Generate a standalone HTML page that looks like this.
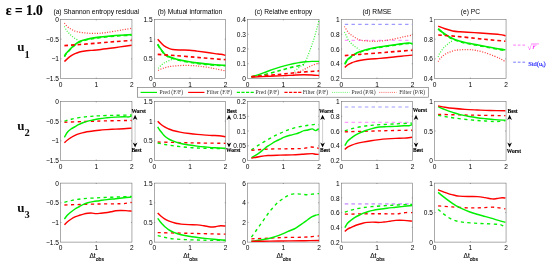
<!DOCTYPE html>
<html><head><meta charset="utf-8"><title>figure</title>
<style>
html,body{margin:0;padding:0;background:#fff}
svg{display:block}
text{text-rendering:auto}
.t{font:7.0px "Liberation Sans",sans-serif;fill:#000}
.ti{font:6.65px "Liberation Sans",sans-serif;fill:#000}
.l{font:5.7px "Liberation Serif",serif;fill:#333}
.w{font:bold 5.5px "Liberation Serif",serif;fill:#000;stroke:#000;stroke-width:0.12px}
</style></head><body>
<svg width="550" height="268" viewBox="0 0 550 268">
<rect width="550" height="268" fill="#fff"/>
<rect x="60.60" y="19.50" width="71.35" height="59.00" fill="#fff" stroke="#666" stroke-width="0.55"/>
<text transform="translate(58.90 22.15) scale(0.94 1)" text-anchor="end" class="t">0</text>
<text transform="translate(58.90 41.82) scale(0.94 1)" text-anchor="end" class="t">−0.5</text>
<text transform="translate(58.90 61.48) scale(0.94 1)" text-anchor="end" class="t">−1</text>
<text transform="translate(58.90 81.15) scale(0.94 1)" text-anchor="end" class="t">−1.5</text>
<text transform="translate(60.60 86.80) scale(0.94 1)" text-anchor="middle" class="t">0</text>
<text transform="translate(96.28 86.80) scale(0.94 1)" text-anchor="middle" class="t">1</text>
<text transform="translate(131.95 86.80) scale(0.94 1)" text-anchor="middle" class="t">2</text>
<path d="M60.60 39.17 h0.9 M131.95 39.17 h-0.9 M60.60 58.83 h0.9 M131.95 58.83 h-0.9 M96.28 78.50 v-0.9 M96.28 19.50 v0.9" stroke="#666" stroke-width="0.6" fill="none"/>
<rect x="154.30" y="19.50" width="71.35" height="59.00" fill="#fff" stroke="#666" stroke-width="0.55"/>
<text transform="translate(152.60 22.15) scale(0.94 1)" text-anchor="end" class="t">1.5</text>
<text transform="translate(152.60 41.82) scale(0.94 1)" text-anchor="end" class="t">1</text>
<text transform="translate(152.60 61.48) scale(0.94 1)" text-anchor="end" class="t">0.5</text>
<text transform="translate(152.60 81.15) scale(0.94 1)" text-anchor="end" class="t">0</text>
<text transform="translate(154.30 86.80) scale(0.94 1)" text-anchor="middle" class="t">0</text>
<text transform="translate(189.98 86.80) scale(0.94 1)" text-anchor="middle" class="t">1</text>
<text transform="translate(225.65 86.80) scale(0.94 1)" text-anchor="middle" class="t">2</text>
<path d="M154.30 39.17 h0.9 M225.65 39.17 h-0.9 M154.30 58.83 h0.9 M225.65 58.83 h-0.9 M189.98 78.50 v-0.9 M189.98 19.50 v0.9" stroke="#666" stroke-width="0.6" fill="none"/>
<rect x="247.70" y="19.50" width="71.35" height="59.00" fill="#fff" stroke="#666" stroke-width="0.55"/>
<text transform="translate(246.00 22.15) scale(0.94 1)" text-anchor="end" class="t">0.4</text>
<text transform="translate(246.00 36.90) scale(0.94 1)" text-anchor="end" class="t">0.3</text>
<text transform="translate(246.00 51.65) scale(0.94 1)" text-anchor="end" class="t">0.2</text>
<text transform="translate(246.00 66.40) scale(0.94 1)" text-anchor="end" class="t">0.1</text>
<text transform="translate(246.00 81.15) scale(0.94 1)" text-anchor="end" class="t">0</text>
<text transform="translate(247.70 86.80) scale(0.94 1)" text-anchor="middle" class="t">0</text>
<text transform="translate(283.38 86.80) scale(0.94 1)" text-anchor="middle" class="t">1</text>
<text transform="translate(319.05 86.80) scale(0.94 1)" text-anchor="middle" class="t">2</text>
<path d="M247.70 34.25 h0.9 M319.05 34.25 h-0.9 M247.70 49.00 h0.9 M319.05 49.00 h-0.9 M247.70 63.75 h0.9 M319.05 63.75 h-0.9 M283.38 78.50 v-0.9 M283.38 19.50 v0.9" stroke="#666" stroke-width="0.6" fill="none"/>
<rect x="341.30" y="19.50" width="71.35" height="59.00" fill="#fff" stroke="#666" stroke-width="0.55"/>
<text transform="translate(339.60 22.15) scale(0.94 1)" text-anchor="end" class="t">1</text>
<text transform="translate(339.60 36.90) scale(0.94 1)" text-anchor="end" class="t">0.8</text>
<text transform="translate(339.60 51.65) scale(0.94 1)" text-anchor="end" class="t">0.6</text>
<text transform="translate(339.60 66.40) scale(0.94 1)" text-anchor="end" class="t">0.4</text>
<text transform="translate(339.60 81.15) scale(0.94 1)" text-anchor="end" class="t">0.2</text>
<text transform="translate(341.30 86.80) scale(0.94 1)" text-anchor="middle" class="t">0</text>
<text transform="translate(376.98 86.80) scale(0.94 1)" text-anchor="middle" class="t">1</text>
<text transform="translate(412.65 86.80) scale(0.94 1)" text-anchor="middle" class="t">2</text>
<path d="M341.30 34.25 h0.9 M412.65 34.25 h-0.9 M341.30 49.00 h0.9 M412.65 49.00 h-0.9 M341.30 63.75 h0.9 M412.65 63.75 h-0.9 M376.98 78.50 v-0.9 M376.98 19.50 v0.9" stroke="#666" stroke-width="0.6" fill="none"/>
<rect x="434.70" y="19.50" width="71.35" height="59.00" fill="#fff" stroke="#666" stroke-width="0.55"/>
<text transform="translate(433.00 22.15) scale(0.94 1)" text-anchor="end" class="t">1</text>
<text transform="translate(433.00 41.82) scale(0.94 1)" text-anchor="end" class="t">0.8</text>
<text transform="translate(433.00 61.48) scale(0.94 1)" text-anchor="end" class="t">0.6</text>
<text transform="translate(433.00 81.15) scale(0.94 1)" text-anchor="end" class="t">0.4</text>
<text transform="translate(434.70 86.80) scale(0.94 1)" text-anchor="middle" class="t">0</text>
<text transform="translate(470.38 86.80) scale(0.94 1)" text-anchor="middle" class="t">1</text>
<text transform="translate(506.05 86.80) scale(0.94 1)" text-anchor="middle" class="t">2</text>
<path d="M434.70 39.17 h0.9 M506.05 39.17 h-0.9 M434.70 58.83 h0.9 M506.05 58.83 h-0.9 M470.38 78.50 v-0.9 M470.38 19.50 v0.9" stroke="#666" stroke-width="0.6" fill="none"/>
<rect x="60.60" y="101.50" width="71.35" height="59.00" fill="#fff" stroke="#666" stroke-width="0.55"/>
<text transform="translate(58.90 104.15) scale(0.94 1)" text-anchor="end" class="t">0</text>
<text transform="translate(58.90 123.82) scale(0.94 1)" text-anchor="end" class="t">−0.5</text>
<text transform="translate(58.90 143.48) scale(0.94 1)" text-anchor="end" class="t">−1</text>
<text transform="translate(58.90 163.15) scale(0.94 1)" text-anchor="end" class="t">−1.5</text>
<text transform="translate(60.60 168.80) scale(0.94 1)" text-anchor="middle" class="t">0</text>
<text transform="translate(96.28 168.80) scale(0.94 1)" text-anchor="middle" class="t">1</text>
<text transform="translate(131.95 168.80) scale(0.94 1)" text-anchor="middle" class="t">2</text>
<path d="M60.60 121.17 h0.9 M131.95 121.17 h-0.9 M60.60 140.83 h0.9 M131.95 140.83 h-0.9 M96.28 160.50 v-0.9 M96.28 101.50 v0.9" stroke="#666" stroke-width="0.6" fill="none"/>
<rect x="154.30" y="101.50" width="71.35" height="59.00" fill="#fff" stroke="#666" stroke-width="0.55"/>
<text transform="translate(152.60 104.15) scale(0.94 1)" text-anchor="end" class="t">1.5</text>
<text transform="translate(152.60 123.82) scale(0.94 1)" text-anchor="end" class="t">1</text>
<text transform="translate(152.60 143.48) scale(0.94 1)" text-anchor="end" class="t">0.5</text>
<text transform="translate(152.60 163.15) scale(0.94 1)" text-anchor="end" class="t">0</text>
<text transform="translate(154.30 168.80) scale(0.94 1)" text-anchor="middle" class="t">0</text>
<text transform="translate(189.98 168.80) scale(0.94 1)" text-anchor="middle" class="t">1</text>
<text transform="translate(225.65 168.80) scale(0.94 1)" text-anchor="middle" class="t">2</text>
<path d="M154.30 121.17 h0.9 M225.65 121.17 h-0.9 M154.30 140.83 h0.9 M225.65 140.83 h-0.9 M189.98 160.50 v-0.9 M189.98 101.50 v0.9" stroke="#666" stroke-width="0.6" fill="none"/>
<rect x="247.70" y="101.50" width="71.35" height="59.00" fill="#fff" stroke="#666" stroke-width="0.55"/>
<text transform="translate(246.00 104.15) scale(0.94 1)" text-anchor="end" class="t">0.2</text>
<text transform="translate(246.00 118.90) scale(0.94 1)" text-anchor="end" class="t">0.15</text>
<text transform="translate(246.00 133.65) scale(0.94 1)" text-anchor="end" class="t">0.1</text>
<text transform="translate(246.00 148.40) scale(0.94 1)" text-anchor="end" class="t">0.05</text>
<text transform="translate(246.00 163.15) scale(0.94 1)" text-anchor="end" class="t">0</text>
<text transform="translate(247.70 168.80) scale(0.94 1)" text-anchor="middle" class="t">0</text>
<text transform="translate(283.38 168.80) scale(0.94 1)" text-anchor="middle" class="t">1</text>
<text transform="translate(319.05 168.80) scale(0.94 1)" text-anchor="middle" class="t">2</text>
<path d="M247.70 116.25 h0.9 M319.05 116.25 h-0.9 M247.70 131.00 h0.9 M319.05 131.00 h-0.9 M247.70 145.75 h0.9 M319.05 145.75 h-0.9 M283.38 160.50 v-0.9 M283.38 101.50 v0.9" stroke="#666" stroke-width="0.6" fill="none"/>
<rect x="341.30" y="101.50" width="71.35" height="59.00" fill="#fff" stroke="#666" stroke-width="0.55"/>
<text transform="translate(339.60 104.15) scale(0.94 1)" text-anchor="end" class="t">1</text>
<text transform="translate(339.60 118.90) scale(0.94 1)" text-anchor="end" class="t">0.8</text>
<text transform="translate(339.60 133.65) scale(0.94 1)" text-anchor="end" class="t">0.6</text>
<text transform="translate(339.60 148.40) scale(0.94 1)" text-anchor="end" class="t">0.4</text>
<text transform="translate(339.60 163.15) scale(0.94 1)" text-anchor="end" class="t">0.2</text>
<text transform="translate(341.30 168.80) scale(0.94 1)" text-anchor="middle" class="t">0</text>
<text transform="translate(376.98 168.80) scale(0.94 1)" text-anchor="middle" class="t">1</text>
<text transform="translate(412.65 168.80) scale(0.94 1)" text-anchor="middle" class="t">2</text>
<path d="M341.30 116.25 h0.9 M412.65 116.25 h-0.9 M341.30 131.00 h0.9 M412.65 131.00 h-0.9 M341.30 145.75 h0.9 M412.65 145.75 h-0.9 M376.98 160.50 v-0.9 M376.98 101.50 v0.9" stroke="#666" stroke-width="0.6" fill="none"/>
<rect x="434.70" y="101.50" width="71.35" height="59.00" fill="#fff" stroke="#666" stroke-width="0.55"/>
<text transform="translate(433.00 104.15) scale(0.94 1)" text-anchor="end" class="t">1</text>
<text transform="translate(433.00 133.65) scale(0.94 1)" text-anchor="end" class="t">0.5</text>
<text transform="translate(433.00 163.15) scale(0.94 1)" text-anchor="end" class="t">0</text>
<text transform="translate(434.70 168.80) scale(0.94 1)" text-anchor="middle" class="t">0</text>
<text transform="translate(470.38 168.80) scale(0.94 1)" text-anchor="middle" class="t">1</text>
<text transform="translate(506.05 168.80) scale(0.94 1)" text-anchor="middle" class="t">2</text>
<path d="M434.70 131.00 h0.9 M506.05 131.00 h-0.9 M470.38 160.50 v-0.9 M470.38 101.50 v0.9" stroke="#666" stroke-width="0.6" fill="none"/>
<rect x="60.60" y="183.10" width="71.35" height="59.00" fill="#fff" stroke="#666" stroke-width="0.55"/>
<text transform="translate(58.90 185.75) scale(0.94 1)" text-anchor="end" class="t">0</text>
<text transform="translate(58.90 205.42) scale(0.94 1)" text-anchor="end" class="t">−0.5</text>
<text transform="translate(58.90 225.08) scale(0.94 1)" text-anchor="end" class="t">−1</text>
<text transform="translate(58.90 244.75) scale(0.94 1)" text-anchor="end" class="t">−1.5</text>
<text transform="translate(60.60 250.40) scale(0.94 1)" text-anchor="middle" class="t">0</text>
<text transform="translate(96.28 250.40) scale(0.94 1)" text-anchor="middle" class="t">1</text>
<text transform="translate(131.95 250.40) scale(0.94 1)" text-anchor="middle" class="t">2</text>
<path d="M60.60 202.77 h0.9 M131.95 202.77 h-0.9 M60.60 222.43 h0.9 M131.95 222.43 h-0.9 M96.28 242.10 v-0.9 M96.28 183.10 v0.9" stroke="#666" stroke-width="0.6" fill="none"/>
<rect x="154.30" y="183.10" width="71.35" height="59.00" fill="#fff" stroke="#666" stroke-width="0.55"/>
<text transform="translate(152.60 185.75) scale(0.94 1)" text-anchor="end" class="t">1.5</text>
<text transform="translate(152.60 205.42) scale(0.94 1)" text-anchor="end" class="t">1</text>
<text transform="translate(152.60 225.08) scale(0.94 1)" text-anchor="end" class="t">0.5</text>
<text transform="translate(152.60 244.75) scale(0.94 1)" text-anchor="end" class="t">0</text>
<text transform="translate(154.30 250.40) scale(0.94 1)" text-anchor="middle" class="t">0</text>
<text transform="translate(189.98 250.40) scale(0.94 1)" text-anchor="middle" class="t">1</text>
<text transform="translate(225.65 250.40) scale(0.94 1)" text-anchor="middle" class="t">2</text>
<path d="M154.30 202.77 h0.9 M225.65 202.77 h-0.9 M154.30 222.43 h0.9 M225.65 222.43 h-0.9 M189.98 242.10 v-0.9 M189.98 183.10 v0.9" stroke="#666" stroke-width="0.6" fill="none"/>
<rect x="247.70" y="183.10" width="71.35" height="59.00" fill="#fff" stroke="#666" stroke-width="0.55"/>
<text transform="translate(246.00 185.75) scale(0.94 1)" text-anchor="end" class="t">6</text>
<text transform="translate(246.00 205.42) scale(0.94 1)" text-anchor="end" class="t">4</text>
<text transform="translate(246.00 225.08) scale(0.94 1)" text-anchor="end" class="t">2</text>
<text transform="translate(246.00 244.75) scale(0.94 1)" text-anchor="end" class="t">0</text>
<text transform="translate(247.70 250.40) scale(0.94 1)" text-anchor="middle" class="t">0</text>
<text transform="translate(283.38 250.40) scale(0.94 1)" text-anchor="middle" class="t">1</text>
<text transform="translate(319.05 250.40) scale(0.94 1)" text-anchor="middle" class="t">2</text>
<path d="M247.70 202.77 h0.9 M319.05 202.77 h-0.9 M247.70 222.43 h0.9 M319.05 222.43 h-0.9 M283.38 242.10 v-0.9 M283.38 183.10 v0.9" stroke="#666" stroke-width="0.6" fill="none"/>
<rect x="341.30" y="183.10" width="71.35" height="59.00" fill="#fff" stroke="#666" stroke-width="0.55"/>
<text transform="translate(339.60 185.75) scale(0.94 1)" text-anchor="end" class="t">1</text>
<text transform="translate(339.60 200.50) scale(0.94 1)" text-anchor="end" class="t">0.8</text>
<text transform="translate(339.60 215.25) scale(0.94 1)" text-anchor="end" class="t">0.6</text>
<text transform="translate(339.60 230.00) scale(0.94 1)" text-anchor="end" class="t">0.4</text>
<text transform="translate(339.60 244.75) scale(0.94 1)" text-anchor="end" class="t">0.2</text>
<text transform="translate(341.30 250.40) scale(0.94 1)" text-anchor="middle" class="t">0</text>
<text transform="translate(376.98 250.40) scale(0.94 1)" text-anchor="middle" class="t">1</text>
<text transform="translate(412.65 250.40) scale(0.94 1)" text-anchor="middle" class="t">2</text>
<path d="M341.30 197.85 h0.9 M412.65 197.85 h-0.9 M341.30 212.60 h0.9 M412.65 212.60 h-0.9 M341.30 227.35 h0.9 M412.65 227.35 h-0.9 M376.98 242.10 v-0.9 M376.98 183.10 v0.9" stroke="#666" stroke-width="0.6" fill="none"/>
<rect x="434.70" y="183.10" width="71.35" height="59.00" fill="#fff" stroke="#666" stroke-width="0.55"/>
<text transform="translate(433.00 185.75) scale(0.94 1)" text-anchor="end" class="t">1</text>
<text transform="translate(433.00 215.25) scale(0.94 1)" text-anchor="end" class="t">0.5</text>
<text transform="translate(433.00 244.75) scale(0.94 1)" text-anchor="end" class="t">0</text>
<text transform="translate(434.70 250.40) scale(0.94 1)" text-anchor="middle" class="t">0</text>
<text transform="translate(470.38 250.40) scale(0.94 1)" text-anchor="middle" class="t">1</text>
<text transform="translate(506.05 250.40) scale(0.94 1)" text-anchor="middle" class="t">2</text>
<path d="M434.70 212.60 h0.9 M506.05 212.60 h-0.9 M470.38 242.10 v-0.9 M470.38 183.10 v0.9" stroke="#666" stroke-width="0.6" fill="none"/>
<path d="M64.40 23.20 C64.72 23.58 65.55 24.72 66.30 25.50 C67.05 26.28 68.03 27.23 68.90 27.90 C69.77 28.57 70.63 29.03 71.50 29.50 C72.37 29.97 73.23 30.35 74.10 30.70 C74.97 31.05 75.57 31.32 76.70 31.60 C77.83 31.88 79.50 32.18 80.90 32.40 C82.30 32.62 83.70 32.75 85.10 32.90 C86.50 33.05 87.73 33.22 89.30 33.30 C90.87 33.38 92.77 33.40 94.50 33.40 C96.23 33.40 97.78 33.43 99.70 33.30 C101.62 33.17 103.62 32.93 106.00 32.60 C108.38 32.27 111.00 31.80 114.00 31.30 C117.00 30.80 121.07 30.08 124.00 29.60 C126.93 29.12 130.33 28.60 131.60 28.40" fill="none" stroke="#ff0000" stroke-width="1.25" stroke-dasharray="1.0 1.55" stroke-opacity="0.78"/>
<path d="M64.40 26.40 C64.62 26.83 65.22 28.17 65.70 29.00 C66.18 29.83 66.68 30.62 67.30 31.40 C67.92 32.18 68.70 32.97 69.40 33.70 C70.10 34.43 70.72 35.10 71.50 35.80 C72.28 36.50 73.23 37.30 74.10 37.90 C74.97 38.50 75.92 38.97 76.70 39.40 C77.48 39.83 78.45 40.32 78.80 40.50" fill="none" stroke="#00ee00" stroke-width="1.25" stroke-dasharray="1.0 1.55" stroke-opacity="0.78"/>
<path d="M64.40 56.20 C64.67 55.77 65.40 54.40 66.00 53.60 C66.60 52.80 67.17 52.30 68.00 51.40 C68.83 50.50 69.90 49.28 71.00 48.20 C72.10 47.12 73.18 46.02 74.60 44.90 C76.02 43.78 77.77 42.37 79.50 41.50 C81.23 40.63 83.08 40.22 85.00 39.70 C86.92 39.18 88.62 38.83 91.00 38.40 C93.38 37.97 96.13 37.48 99.30 37.10 C102.47 36.72 106.55 36.40 110.00 36.10 C113.45 35.80 116.40 35.55 120.00 35.30 C123.60 35.05 129.67 34.72 131.60 34.60" fill="none" stroke="#00ee00" stroke-width="1.60"/>
<path d="M64.40 56.75 C64.67 56.32 65.40 54.95 66.00 54.15 C66.60 53.35 67.17 52.85 68.00 51.95 C68.83 51.05 69.90 49.83 71.00 48.75 C72.10 47.67 73.18 46.57 74.60 45.45 C76.02 44.33 77.77 42.92 79.50 42.05 C81.23 41.18 83.08 40.77 85.00 40.25 C86.92 39.73 88.62 39.38 91.00 38.95 C93.38 38.52 96.13 38.03 99.30 37.65 C102.47 37.27 106.55 36.95 110.00 36.65 C113.45 36.35 116.40 36.10 120.00 35.85 C123.60 35.60 129.67 35.27 131.60 35.15" fill="none" stroke="#00ee00" stroke-width="1.50" stroke-dasharray="3.7 2.9"/>
<path d="M64.40 45.60 C67.00 45.42 74.23 44.93 80.00 44.50 C85.77 44.07 93.17 43.48 99.00 43.00 C104.83 42.52 109.57 42.03 115.00 41.60 C120.43 41.17 128.83 40.60 131.60 40.40" fill="none" stroke="#ff0000" stroke-width="1.60" stroke-dasharray="3.7 2.9"/>
<path d="M64.40 61.50 C64.92 61.02 66.35 59.57 67.50 58.60 C68.65 57.63 70.05 56.52 71.30 55.70 C72.55 54.88 73.63 54.32 75.00 53.70 C76.37 53.08 77.83 52.45 79.50 52.00 C81.17 51.55 83.08 51.27 85.00 51.00 C86.92 50.73 88.67 50.62 91.00 50.40 C93.33 50.18 95.83 50.05 99.00 49.70 C102.17 49.35 106.50 48.77 110.00 48.30 C113.50 47.83 116.40 47.40 120.00 46.90 C123.60 46.40 129.67 45.57 131.60 45.30" fill="none" stroke="#ff0000" stroke-width="1.45"/>
<path d="M158.20 70.40 C158.67 70.17 159.97 69.43 161.00 69.00 C162.03 68.57 163.32 68.13 164.40 67.80 C165.48 67.47 166.45 67.23 167.50 67.00 C168.55 66.77 169.12 66.62 170.70 66.40 C172.28 66.18 174.57 65.87 177.00 65.70 C179.43 65.53 182.52 65.40 185.30 65.40 C188.08 65.40 191.25 65.55 193.70 65.70 C196.15 65.85 197.62 66.02 200.00 66.30 C202.38 66.58 205.33 66.95 208.00 67.40 C210.67 67.85 213.10 68.42 216.00 69.00 C218.90 69.58 223.83 70.58 225.40 70.90" fill="none" stroke="#ff0000" stroke-width="1.25" stroke-dasharray="1.0 1.55" stroke-opacity="0.78"/>
<path d="M158.20 68.30 C158.72 67.78 160.27 66.13 161.30 65.20 C162.33 64.27 163.35 63.35 164.40 62.70 C165.45 62.05 166.55 61.77 167.60 61.30 C168.65 60.83 169.83 60.25 170.70 59.90 C171.57 59.55 172.45 59.32 172.80 59.20" fill="none" stroke="#00ee00" stroke-width="1.25" stroke-dasharray="1.0 1.55" stroke-opacity="0.78"/>
<path d="M157.70 44.10 C158.08 44.75 159.20 46.80 160.00 48.00 C160.80 49.20 161.73 50.30 162.50 51.30 C163.27 52.30 163.68 53.18 164.60 54.00 C165.52 54.82 166.63 55.53 168.00 56.20 C169.37 56.87 170.80 57.37 172.80 58.00 C174.80 58.63 177.25 59.37 180.00 60.00 C182.75 60.63 186.47 61.32 189.30 61.80 C192.13 62.28 194.27 62.55 197.00 62.90 C199.73 63.25 202.70 63.60 205.70 63.90 C208.70 64.20 211.72 64.47 215.00 64.70 C218.28 64.93 223.67 65.20 225.40 65.30" fill="none" stroke="#00ee00" stroke-width="1.60"/>
<path d="M157.70 44.65 C158.08 45.30 159.20 47.35 160.00 48.55 C160.80 49.75 161.73 50.85 162.50 51.85 C163.27 52.85 163.68 53.73 164.60 54.55 C165.52 55.37 166.63 56.08 168.00 56.75 C169.37 57.42 170.80 57.92 172.80 58.55 C174.80 59.18 177.25 59.92 180.00 60.55 C182.75 61.18 186.47 61.87 189.30 62.35 C192.13 62.83 194.27 63.10 197.00 63.45 C199.73 63.80 202.70 64.15 205.70 64.45 C208.70 64.75 211.72 65.02 215.00 65.25 C218.28 65.48 223.67 65.75 225.40 65.85" fill="none" stroke="#00ee00" stroke-width="1.50" stroke-dasharray="3.7 2.9"/>
<path d="M157.70 54.40 C160.58 54.60 168.78 55.13 175.00 55.60 C181.22 56.07 189.17 56.72 195.00 57.20 C200.83 57.68 204.93 58.08 210.00 58.50 C215.07 58.92 222.83 59.50 225.40 59.70" fill="none" stroke="#ff0000" stroke-width="1.60" stroke-dasharray="3.7 2.9"/>
<path d="M157.70 39.20 C158.17 39.72 159.35 41.13 160.50 42.30 C161.65 43.47 163.27 45.22 164.60 46.20 C165.93 47.18 167.13 47.65 168.50 48.20 C169.87 48.75 170.88 49.20 172.80 49.50 C174.72 49.80 177.25 49.88 180.00 50.00 C182.75 50.12 186.47 50.02 189.30 50.20 C192.13 50.38 194.27 50.75 197.00 51.10 C199.73 51.45 202.70 51.88 205.70 52.30 C208.70 52.72 212.45 53.27 215.00 53.60 C217.55 53.93 219.27 54.00 221.00 54.30 C222.73 54.60 224.67 55.22 225.40 55.40" fill="none" stroke="#ff0000" stroke-width="1.45"/>
<path d="M294.50 71.20 C295.08 70.72 296.83 69.25 298.00 68.30 C299.17 67.35 300.40 66.38 301.50 65.50 C302.60 64.62 303.68 64.25 304.60 63.00 C305.52 61.75 306.18 59.92 307.00 58.00 C307.82 56.08 308.68 53.67 309.50 51.50 C310.32 49.33 311.07 47.42 311.90 45.00 C312.73 42.58 313.65 39.83 314.50 37.00 C315.35 34.17 316.25 30.83 317.00 28.00 C317.75 25.17 318.67 21.33 319.00 20.00" fill="none" stroke="#00ee00" stroke-width="1.25" stroke-dasharray="1.0 1.55" stroke-opacity="0.78"/>
<path d="M293.00 74.00 C294.17 73.58 297.83 72.42 300.00 71.50 C302.17 70.58 304.00 69.50 306.00 68.50 C308.00 67.50 309.82 66.42 312.00 65.50 C314.18 64.58 317.92 63.42 319.10 63.00" fill="none" stroke="#ff0000" stroke-width="1.25" stroke-dasharray="1.0 1.55" stroke-opacity="0.78"/>
<path d="M251.40 76.70 C252.50 76.40 255.27 75.82 258.00 74.90 C260.73 73.98 264.80 72.28 267.80 71.20 C270.80 70.12 273.25 69.28 276.00 68.40 C278.75 67.52 281.28 66.72 284.30 65.90 C287.32 65.08 291.48 64.07 294.10 63.50 C296.72 62.93 298.08 62.78 300.00 62.50 C301.92 62.22 303.60 61.98 305.60 61.80 C307.60 61.62 309.75 61.47 312.00 61.40 C314.25 61.33 317.92 61.40 319.10 61.40" fill="none" stroke="#00ee00" stroke-width="1.45"/>
<path d="M251.40 76.90 C253.17 76.62 257.90 76.07 262.00 75.20 C266.10 74.33 272.33 72.67 276.00 71.70 C279.67 70.73 281.25 70.17 284.00 69.40 C286.75 68.63 289.72 67.78 292.50 67.10 C295.28 66.42 298.78 65.72 300.70 65.30 C302.62 64.88 303.45 64.72 304.00 64.60" fill="none" stroke="#00ee00" stroke-width="1.60" stroke-dasharray="3.7 2.9"/>
<path d="M251.40 76.60 C254.50 76.37 264.52 75.65 270.00 75.20 C275.48 74.75 279.18 74.40 284.30 73.90 C289.42 73.40 294.90 72.70 300.70 72.20 C306.50 71.70 316.03 71.12 319.10 70.90" fill="none" stroke="#ff0000" stroke-width="1.60" stroke-dasharray="3.7 2.9"/>
<path d="M251.40 77.00 C254.50 76.88 264.52 76.53 270.00 76.30 C275.48 76.07 279.97 75.82 284.30 75.60 C288.63 75.38 292.72 75.13 296.00 75.00 C299.28 74.87 301.33 74.80 304.00 74.80 C306.67 74.80 309.48 74.88 312.00 75.00 C314.52 75.12 317.92 75.42 319.10 75.50" fill="none" stroke="#ff0000" stroke-width="1.45"/>
<path d="M344.80 24.40 L412.40 24.40" fill="none" stroke="#9b9bff" stroke-width="1.20" stroke-dasharray="3.4 3.3"/>
<path d="M344.80 40.40 L412.40 40.40" fill="none" stroke="#ff9bff" stroke-width="1.20" stroke-dasharray="3.4 3.3"/>
<path d="M344.40 26.50 C344.72 26.98 345.55 28.30 346.30 29.40 C347.05 30.50 348.03 32.13 348.90 33.10 C349.77 34.07 350.63 34.57 351.50 35.20 C352.37 35.83 353.23 36.33 354.10 36.90 C354.97 37.47 355.83 38.15 356.70 38.60 C357.57 39.05 358.43 39.30 359.30 39.60 C360.17 39.90 360.77 40.18 361.90 40.40 C363.03 40.62 364.53 40.77 366.10 40.90 C367.67 41.03 369.55 41.13 371.30 41.20 C373.05 41.27 374.48 41.38 376.60 41.30 C378.72 41.22 381.10 41.08 384.00 40.70 C386.90 40.32 390.67 39.65 394.00 39.00 C397.33 38.35 400.93 37.47 404.00 36.80 C407.07 36.13 411.00 35.30 412.40 35.00" fill="none" stroke="#ff0000" stroke-width="1.25" stroke-dasharray="1.0 1.55" stroke-opacity="0.78"/>
<path d="M344.40 32.00 C344.72 32.62 345.63 34.38 346.30 35.70 C346.97 37.02 347.72 38.77 348.40 39.90 C349.08 41.03 349.72 41.72 350.40 42.50 C351.08 43.28 351.80 43.97 352.50 44.60 C353.20 45.23 353.90 45.78 354.60 46.30 C355.30 46.82 355.90 47.12 356.70 47.70 C357.50 48.28 358.95 49.45 359.40 49.80" fill="none" stroke="#00ee00" stroke-width="1.25" stroke-dasharray="1.0 1.55" stroke-opacity="0.78"/>
<path d="M344.80 63.80 C345.25 63.10 346.42 60.83 347.50 59.60 C348.58 58.37 350.05 57.35 351.30 56.40 C352.55 55.45 353.62 54.67 355.00 53.90 C356.38 53.13 357.93 52.45 359.60 51.80 C361.27 51.15 363.10 50.55 365.00 50.00 C366.90 49.45 368.67 49.00 371.00 48.50 C373.33 48.00 376.25 47.47 379.00 47.00 C381.75 46.53 384.33 46.15 387.50 45.70 C390.67 45.25 394.45 44.75 398.00 44.30 C401.55 43.85 406.40 43.08 408.80 43.00 C411.20 42.92 411.80 43.67 412.40 43.80" fill="none" stroke="#00ee00" stroke-width="1.60"/>
<path d="M344.80 64.35 C345.25 63.65 346.42 61.38 347.50 60.15 C348.58 58.92 350.05 57.90 351.30 56.95 C352.55 56.00 353.62 55.22 355.00 54.45 C356.38 53.68 357.93 53.00 359.60 52.35 C361.27 51.70 363.10 51.10 365.00 50.55 C366.90 50.00 368.67 49.55 371.00 49.05 C373.33 48.55 376.25 48.02 379.00 47.55 C381.75 47.08 384.33 46.70 387.50 46.25 C390.67 45.80 394.45 45.30 398.00 44.85 C401.55 44.40 406.40 43.63 408.80 43.55 C411.20 43.47 411.80 44.22 412.40 44.35" fill="none" stroke="#00ee00" stroke-width="1.50" stroke-dasharray="3.7 2.9"/>
<path d="M344.80 55.60 C347.33 55.40 354.13 54.87 360.00 54.40 C365.87 53.93 374.00 53.28 380.00 52.80 C386.00 52.32 390.60 51.93 396.00 51.50 C401.40 51.07 409.67 50.42 412.40 50.20" fill="none" stroke="#ff0000" stroke-width="1.60" stroke-dasharray="3.7 2.9"/>
<path d="M344.80 67.60 C345.25 67.17 346.42 65.77 347.50 65.00 C348.58 64.23 350.05 63.57 351.30 63.00 C352.55 62.43 353.62 62.02 355.00 61.60 C356.38 61.18 357.43 60.88 359.60 60.50 C361.77 60.12 364.72 59.65 368.00 59.30 C371.28 58.95 376.13 58.67 379.30 58.40 C382.47 58.13 384.27 57.98 387.00 57.70 C389.73 57.42 392.87 57.00 395.70 56.70 C398.53 56.40 401.22 56.17 404.00 55.90 C406.78 55.63 411.00 55.23 412.40 55.10" fill="none" stroke="#ff0000" stroke-width="1.45"/>
<path d="M438.20 61.60 C438.45 61.17 439.10 59.78 439.70 59.00 C440.30 58.22 441.02 57.60 441.80 56.90 C442.58 56.20 443.43 55.47 444.40 54.80 C445.37 54.13 446.55 53.42 447.60 52.90 C448.65 52.38 449.48 52.12 450.70 51.70 C451.92 51.28 453.33 50.72 454.90 50.40 C456.47 50.08 458.37 49.93 460.10 49.80 C461.83 49.67 463.55 49.62 465.30 49.60 C467.05 49.58 468.82 49.57 470.60 49.70 C472.38 49.83 473.77 49.97 476.00 50.40 C478.23 50.83 481.00 51.37 484.00 52.30 C487.00 53.23 491.17 54.88 494.00 56.00 C496.83 57.12 499.10 58.00 501.00 59.00 C502.90 60.00 504.67 61.50 505.40 62.00" fill="none" stroke="#ff0000" stroke-width="1.25" stroke-dasharray="1.0 1.55" stroke-opacity="0.78"/>
<path d="M438.20 56.90 C438.37 56.47 438.77 55.17 439.20 54.30 C439.63 53.43 440.18 52.63 440.80 51.70 C441.42 50.77 442.20 49.58 442.90 48.70 C443.60 47.82 444.22 47.15 445.00 46.40 C445.78 45.65 446.73 44.92 447.60 44.20 C448.47 43.48 449.25 42.73 450.20 42.10 C451.15 41.47 452.78 40.68 453.30 40.40" fill="none" stroke="#00ee00" stroke-width="1.25" stroke-dasharray="1.0 1.55" stroke-opacity="0.78"/>
<path d="M438.20 28.60 C438.83 29.17 440.40 30.77 442.00 32.00 C443.60 33.23 445.97 34.88 447.80 36.00 C449.63 37.12 451.08 37.87 453.00 38.70 C454.92 39.53 456.97 40.28 459.30 41.00 C461.63 41.72 464.27 42.42 467.00 43.00 C469.73 43.58 472.37 43.88 475.70 44.50 C479.03 45.12 482.95 45.93 487.00 46.70 C491.05 47.47 496.93 48.58 500.00 49.10 C503.07 49.62 504.50 49.68 505.40 49.80" fill="none" stroke="#00ee00" stroke-width="1.60"/>
<path d="M438.20 29.15 C438.83 29.72 440.40 31.32 442.00 32.55 C443.60 33.78 445.97 35.43 447.80 36.55 C449.63 37.67 451.08 38.42 453.00 39.25 C454.92 40.08 456.97 40.83 459.30 41.55 C461.63 42.27 464.27 42.97 467.00 43.55 C469.73 44.13 472.37 44.43 475.70 45.05 C479.03 45.67 482.95 46.48 487.00 47.25 C491.05 48.02 496.93 49.13 500.00 49.65 C503.07 50.17 504.50 50.23 505.40 50.35" fill="none" stroke="#00ee00" stroke-width="1.50" stroke-dasharray="3.7 2.9"/>
<path d="M438.20 35.00 C441.00 35.20 448.87 35.65 455.00 36.20 C461.13 36.75 469.17 37.70 475.00 38.30 C480.83 38.90 484.93 39.32 490.00 39.80 C495.07 40.28 502.83 40.97 505.40 41.20" fill="none" stroke="#ff0000" stroke-width="1.60" stroke-dasharray="3.7 2.9"/>
<path d="M438.20 26.10 C439.33 26.55 442.58 27.98 445.00 28.80 C447.42 29.62 450.20 30.50 452.70 31.00 C455.20 31.50 457.53 31.60 460.00 31.80 C462.47 32.00 464.17 32.00 467.50 32.20 C470.83 32.40 476.25 32.73 480.00 33.00 C483.75 33.27 486.67 33.53 490.00 33.80 C493.33 34.07 497.40 34.27 500.00 34.60 C502.60 34.93 504.67 35.60 505.60 35.80" fill="none" stroke="#ff0000" stroke-width="1.45"/>
<path d="M64.40 121.20 C65.67 120.83 68.93 119.68 72.00 119.00 C75.07 118.32 79.63 117.55 82.80 117.10 C85.97 116.65 88.25 116.52 91.00 116.30 C93.75 116.08 95.30 115.97 99.30 115.80 C103.30 115.63 109.62 115.43 115.00 115.30 C120.38 115.17 128.83 115.05 131.60 115.00" fill="none" stroke="#00ee00" stroke-width="1.35" stroke-dasharray="3.2 3.4"/>
<path d="M64.40 122.30 C67.83 122.17 78.23 121.73 85.00 121.50 C91.77 121.27 97.23 121.08 105.00 120.90 C112.77 120.72 127.17 120.48 131.60 120.40" fill="none" stroke="#ff0000" stroke-width="1.35" stroke-dasharray="3.2 3.4"/>
<path d="M64.40 137.40 C64.67 136.88 65.40 135.27 66.00 134.30 C66.60 133.33 67.17 132.48 68.00 131.60 C68.83 130.72 69.90 129.77 71.00 129.00 C72.10 128.23 73.35 127.72 74.60 127.00 C75.85 126.28 77.13 125.40 78.50 124.70 C79.87 124.00 81.38 123.35 82.80 122.80 C84.22 122.25 85.63 121.80 87.00 121.40 C88.37 121.00 88.95 120.85 91.00 120.40 C93.05 119.95 96.63 119.13 99.30 118.70 C101.97 118.27 104.27 118.07 107.00 117.80 C109.73 117.53 112.87 117.27 115.70 117.10 C118.53 116.93 121.78 116.83 124.00 116.80 C126.22 116.77 127.73 117.03 129.00 116.90 C130.27 116.77 131.17 116.15 131.60 116.00" fill="none" stroke="#00ee00" stroke-width="1.45"/>
<path d="M64.40 142.80 C64.92 142.33 66.35 140.90 67.50 140.00 C68.65 139.10 70.05 138.18 71.30 137.40 C72.55 136.62 73.63 135.93 75.00 135.30 C76.37 134.67 77.83 134.12 79.50 133.60 C81.17 133.08 83.08 132.58 85.00 132.20 C86.92 131.82 88.62 131.63 91.00 131.30 C93.38 130.97 96.63 130.48 99.30 130.20 C101.97 129.92 104.27 129.78 107.00 129.60 C109.73 129.42 112.87 129.25 115.70 129.10 C118.53 128.95 121.35 128.87 124.00 128.70 C126.65 128.53 130.33 128.20 131.60 128.10" fill="none" stroke="#ff0000" stroke-width="1.45"/>
<path d="M157.70 142.00 C161.42 142.10 172.95 142.43 180.00 142.60 C187.05 142.77 192.43 142.88 200.00 143.00 C207.57 143.12 221.17 143.25 225.40 143.30" fill="none" stroke="#ff0000" stroke-width="1.35" stroke-dasharray="3.2 3.4"/>
<path d="M157.70 143.00 C158.92 143.25 162.12 144.00 165.00 144.50 C167.88 145.00 170.95 145.50 175.00 146.00 C179.05 146.50 184.30 147.12 189.30 147.50 C194.30 147.88 198.98 148.12 205.00 148.30 C211.02 148.48 222.00 148.55 225.40 148.60" fill="none" stroke="#00ee00" stroke-width="1.35" stroke-dasharray="3.2 3.4"/>
<path d="M157.70 126.90 C158.08 127.50 159.20 129.38 160.00 130.50 C160.80 131.62 161.73 132.68 162.50 133.60 C163.27 134.52 163.60 135.13 164.60 136.00 C165.60 136.87 167.13 137.98 168.50 138.80 C169.87 139.62 170.88 140.15 172.80 140.90 C174.72 141.65 177.25 142.62 180.00 143.30 C182.75 143.98 186.47 144.53 189.30 145.00 C192.13 145.47 194.27 145.77 197.00 146.10 C199.73 146.43 202.70 146.72 205.70 147.00 C208.70 147.28 211.72 147.58 215.00 147.80 C218.28 148.02 223.67 148.22 225.40 148.30" fill="none" stroke="#00ee00" stroke-width="1.45"/>
<path d="M157.70 121.20 C158.17 121.67 159.35 123.05 160.50 124.00 C161.65 124.95 163.27 126.08 164.60 126.90 C165.93 127.72 167.13 128.30 168.50 128.90 C169.87 129.50 170.88 129.97 172.80 130.50 C174.72 131.03 177.25 131.60 180.00 132.10 C182.75 132.60 186.47 133.12 189.30 133.50 C192.13 133.88 194.27 134.13 197.00 134.40 C199.73 134.67 203.20 134.92 205.70 135.10 C208.20 135.28 209.78 135.40 212.00 135.50 C214.22 135.60 216.77 135.50 219.00 135.70 C221.23 135.90 224.33 136.53 225.40 136.70" fill="none" stroke="#ff0000" stroke-width="1.45"/>
<path d="M251.40 149.90 C252.67 149.07 256.27 146.62 259.00 144.90 C261.73 143.18 264.97 141.22 267.80 139.60 C270.63 137.98 273.25 136.57 276.00 135.20 C278.75 133.83 281.63 132.50 284.30 131.40 C286.97 130.30 289.27 129.42 292.00 128.60 C294.73 127.78 297.88 127.07 300.70 126.50 C303.52 125.93 306.43 125.55 308.90 125.20 C311.37 124.85 313.87 124.47 315.50 124.40 C317.13 124.33 318.17 124.73 318.70 124.80" fill="none" stroke="#00ee00" stroke-width="1.35" stroke-dasharray="3.2 3.4"/>
<path d="M251.40 150.30 C254.13 150.10 262.20 149.35 267.80 149.10 C273.40 148.85 279.52 148.88 285.00 148.80 C290.48 148.72 297.20 148.73 300.70 148.60 C304.20 148.47 304.37 148.27 306.00 148.00 C307.63 147.73 309.00 147.10 310.50 147.00 C312.00 146.90 313.63 147.18 315.00 147.40 C316.37 147.62 318.08 148.15 318.70 148.30" fill="none" stroke="#ff0000" stroke-width="1.35" stroke-dasharray="3.2 3.4"/>
<path d="M251.40 157.70 C252.00 157.37 253.63 156.53 255.00 155.70 C256.37 154.87 258.18 153.73 259.60 152.70 C261.02 151.67 262.13 150.58 263.50 149.50 C264.87 148.42 266.38 147.20 267.80 146.20 C269.22 145.20 270.63 144.33 272.00 143.50 C273.37 142.67 274.67 141.92 276.00 141.20 C277.33 140.48 278.62 139.88 280.00 139.20 C281.38 138.52 282.63 137.75 284.30 137.10 C285.97 136.45 288.08 135.83 290.00 135.30 C291.92 134.77 294.13 134.40 295.80 133.90 C297.47 133.40 298.63 132.85 300.00 132.30 C301.37 131.75 302.67 130.98 304.00 130.60 C305.33 130.22 306.63 130.28 308.00 130.00 C309.37 129.72 310.95 128.80 312.20 128.90 C313.45 129.00 314.42 130.65 315.50 130.60 C316.58 130.55 318.17 128.93 318.70 128.60" fill="none" stroke="#00ee00" stroke-width="1.45"/>
<path d="M251.40 158.20 C252.67 157.95 256.27 157.15 259.00 156.70 C261.73 156.25 264.30 155.77 267.80 155.50 C271.30 155.23 275.88 155.20 280.00 155.10 C284.12 155.00 288.83 155.03 292.50 154.90 C296.17 154.77 298.72 154.52 302.00 154.30 C305.28 154.08 309.95 153.60 312.20 153.60 C314.45 153.60 314.42 154.17 315.50 154.30 C316.58 154.43 318.17 154.38 318.70 154.40" fill="none" stroke="#ff0000" stroke-width="1.45"/>
<path d="M344.80 107.00 L412.40 107.00" fill="none" stroke="#9b9bff" stroke-width="1.20" stroke-dasharray="3.4 3.3"/>
<path d="M344.80 122.30 L412.40 122.30" fill="none" stroke="#ff9bff" stroke-width="1.20" stroke-dasharray="3.4 3.3"/>
<path d="M344.80 130.80 C346.17 130.38 350.00 129.03 353.00 128.30 C356.00 127.57 359.80 126.88 362.80 126.40 C365.80 125.92 368.25 125.68 371.00 125.40 C373.75 125.12 375.18 124.95 379.30 124.70 C383.42 124.45 390.23 124.17 395.70 123.90 C401.17 123.63 409.37 123.23 412.10 123.10" fill="none" stroke="#00ee00" stroke-width="1.35" stroke-dasharray="3.2 3.4"/>
<path d="M344.80 131.80 C349.00 131.68 362.47 131.30 370.00 131.10 C377.53 130.90 382.98 130.75 390.00 130.60 C397.02 130.45 408.42 130.27 412.10 130.20" fill="none" stroke="#ff0000" stroke-width="1.35" stroke-dasharray="3.2 3.4"/>
<path d="M344.80 145.70 C345.25 144.97 346.42 142.58 347.50 141.30 C348.58 140.02 350.05 139.00 351.30 138.00 C352.55 137.00 353.62 136.13 355.00 135.30 C356.38 134.47 357.93 133.77 359.60 133.00 C361.27 132.23 363.10 131.38 365.00 130.70 C366.90 130.02 368.62 129.52 371.00 128.90 C373.38 128.28 376.63 127.38 379.30 127.00 C381.97 126.62 384.27 126.70 387.00 126.60 C389.73 126.50 392.87 126.55 395.70 126.40 C398.53 126.25 401.78 125.80 404.00 125.70 C406.22 125.60 407.65 125.97 409.00 125.80 C410.35 125.63 411.58 124.88 412.10 124.70" fill="none" stroke="#00ee00" stroke-width="1.45"/>
<path d="M344.80 149.50 C345.25 149.10 346.42 147.80 347.50 147.10 C348.58 146.40 349.88 145.88 351.30 145.30 C352.72 144.72 354.08 144.13 356.00 143.60 C357.92 143.07 360.30 142.58 362.80 142.10 C365.30 141.62 368.25 141.12 371.00 140.70 C373.75 140.28 376.63 139.90 379.30 139.60 C381.97 139.30 384.27 139.10 387.00 138.90 C389.73 138.70 392.87 138.53 395.70 138.40 C398.53 138.27 401.27 138.28 404.00 138.10 C406.73 137.92 410.75 137.43 412.10 137.30" fill="none" stroke="#ff0000" stroke-width="1.45"/>
<path d="M438.10 114.40 C441.75 114.48 453.02 114.75 460.00 114.90 C466.98 115.05 472.43 115.17 480.00 115.30 C487.57 115.43 501.17 115.63 505.40 115.70" fill="none" stroke="#ff0000" stroke-width="1.35" stroke-dasharray="3.2 3.4"/>
<path d="M438.10 115.40 C439.25 115.60 442.18 116.15 445.00 116.60 C447.82 117.05 450.95 117.57 455.00 118.10 C459.05 118.63 464.80 119.35 469.30 119.80 C473.80 120.25 477.90 120.52 482.00 120.80 C486.10 121.08 490.90 121.42 493.90 121.50 C496.90 121.58 498.08 121.45 500.00 121.30 C501.92 121.15 504.50 120.72 505.40 120.60" fill="none" stroke="#00ee00" stroke-width="1.35" stroke-dasharray="3.2 3.4"/>
<path d="M438.10 106.70 C439.25 107.18 442.55 108.65 445.00 109.60 C447.45 110.55 450.30 111.57 452.80 112.40 C455.30 113.23 457.25 113.92 460.00 114.60 C462.75 115.28 466.47 115.98 469.30 116.50 C472.13 117.02 474.27 117.33 477.00 117.70 C479.73 118.07 482.70 118.38 485.70 118.70 C488.70 119.02 491.72 119.33 495.00 119.60 C498.28 119.87 503.67 120.18 505.40 120.30" fill="none" stroke="#00ee00" stroke-width="1.45"/>
<path d="M438.10 105.90 C439.25 106.12 442.55 106.80 445.00 107.20 C447.45 107.60 449.47 107.93 452.80 108.30 C456.13 108.67 460.88 109.12 465.00 109.40 C469.12 109.68 473.33 109.82 477.50 110.00 C481.67 110.18 485.35 110.37 490.00 110.50 C494.65 110.63 502.83 110.75 505.40 110.80" fill="none" stroke="#ff0000" stroke-width="1.45"/>
<path d="M64.40 202.30 C65.67 201.97 68.93 200.90 72.00 200.30 C75.07 199.70 78.97 199.10 82.80 198.70 C86.63 198.30 90.88 198.12 95.00 197.90 C99.12 197.68 103.33 197.57 107.50 197.40 C111.67 197.23 115.98 197.08 120.00 196.90 C124.02 196.72 129.67 196.40 131.60 196.30" fill="none" stroke="#00ee00" stroke-width="1.35" stroke-dasharray="3.2 3.4"/>
<path d="M64.40 205.00 C67.00 204.92 74.18 204.67 80.00 204.50 C85.82 204.33 93.47 204.12 99.30 204.00 C105.13 203.88 111.18 203.85 115.00 203.80 C118.82 203.75 120.20 203.80 122.20 203.70 C124.20 203.60 125.43 203.43 127.00 203.20 C128.57 202.97 130.83 202.45 131.60 202.30" fill="none" stroke="#ff0000" stroke-width="1.35" stroke-dasharray="3.2 3.4"/>
<path d="M64.40 219.00 C64.92 218.33 66.35 216.22 67.50 215.00 C68.65 213.78 70.05 212.70 71.30 211.70 C72.55 210.70 73.63 209.87 75.00 209.00 C76.37 208.13 78.08 207.27 79.50 206.50 C80.92 205.73 82.12 205.02 83.50 204.40 C84.88 203.78 86.22 203.27 87.80 202.80 C89.38 202.33 91.08 201.95 93.00 201.60 C94.92 201.25 96.97 201.03 99.30 200.70 C101.63 200.37 104.27 199.93 107.00 199.60 C109.73 199.27 112.87 199.00 115.70 198.70 C118.53 198.40 121.35 198.07 124.00 197.80 C126.65 197.53 130.33 197.22 131.60 197.10" fill="none" stroke="#00ee00" stroke-width="1.45"/>
<path d="M64.40 224.80 C64.92 224.28 66.35 222.67 67.50 221.70 C68.65 220.73 70.05 219.80 71.30 219.00 C72.55 218.20 73.63 217.52 75.00 216.90 C76.37 216.28 78.08 215.77 79.50 215.30 C80.92 214.83 82.12 214.43 83.50 214.10 C84.88 213.77 86.38 213.47 87.80 213.30 C89.22 213.13 90.63 213.05 92.00 213.10 C93.37 213.15 94.50 213.58 96.00 213.60 C97.50 213.62 99.08 213.38 101.00 213.20 C102.92 213.02 105.83 212.73 107.50 212.50 C109.17 212.27 109.63 212.08 111.00 211.80 C112.37 211.52 114.20 211.02 115.70 210.80 C117.20 210.58 118.28 210.53 120.00 210.50 C121.72 210.47 124.07 210.50 126.00 210.60 C127.93 210.70 130.67 211.02 131.60 211.10" fill="none" stroke="#ff0000" stroke-width="1.45"/>
<path d="M157.70 232.60 C161.42 232.68 172.95 232.93 180.00 233.10 C187.05 233.27 192.43 233.42 200.00 233.60 C207.57 233.78 221.17 234.10 225.40 234.20" fill="none" stroke="#ff0000" stroke-width="1.35" stroke-dasharray="3.2 3.4"/>
<path d="M157.70 235.60 C158.75 235.87 161.48 236.67 164.00 237.20 C166.52 237.73 169.30 238.40 172.80 238.80 C176.30 239.20 180.88 239.40 185.00 239.60 C189.12 239.80 193.33 239.88 197.50 240.00 C201.67 240.12 205.35 240.22 210.00 240.30 C214.65 240.38 222.83 240.47 225.40 240.50" fill="none" stroke="#00ee00" stroke-width="1.35" stroke-dasharray="3.2 3.4"/>
<path d="M157.70 218.30 C158.08 218.83 159.20 220.50 160.00 221.50 C160.80 222.50 161.73 223.47 162.50 224.30 C163.27 225.13 163.60 225.62 164.60 226.50 C165.60 227.38 167.13 228.70 168.50 229.60 C169.87 230.50 171.38 231.25 172.80 231.90 C174.22 232.55 175.63 233.03 177.00 233.50 C178.37 233.97 179.00 234.23 181.00 234.70 C183.00 235.17 186.25 235.83 189.00 236.30 C191.75 236.77 194.83 237.15 197.50 237.50 C200.17 237.85 202.27 238.10 205.00 238.40 C207.73 238.70 210.50 239.00 213.90 239.30 C217.30 239.60 223.48 240.05 225.40 240.20" fill="none" stroke="#00ee00" stroke-width="1.45"/>
<path d="M157.70 212.90 C158.17 213.37 159.35 214.72 160.50 215.70 C161.65 216.68 163.27 217.95 164.60 218.80 C165.93 219.65 167.13 220.20 168.50 220.80 C169.87 221.40 171.38 221.95 172.80 222.40 C174.22 222.85 175.63 223.22 177.00 223.50 C178.37 223.78 179.00 223.92 181.00 224.10 C183.00 224.28 186.25 224.47 189.00 224.60 C191.75 224.73 195.00 224.70 197.50 224.90 C200.00 225.10 201.82 225.45 204.00 225.80 C206.18 226.15 208.60 226.87 210.60 227.00 C212.60 227.13 214.35 226.82 216.00 226.60 C217.65 226.38 218.93 225.80 220.50 225.70 C222.07 225.60 224.58 225.95 225.40 226.00" fill="none" stroke="#ff0000" stroke-width="1.45"/>
<path d="M251.40 237.20 C252.08 236.25 254.13 233.42 255.50 231.50 C256.87 229.58 258.23 227.63 259.60 225.70 C260.97 223.77 262.33 221.85 263.70 219.90 C265.07 217.95 266.42 215.87 267.80 214.00 C269.18 212.13 270.63 210.32 272.00 208.70 C273.37 207.08 274.67 205.63 276.00 204.30 C277.33 202.97 278.62 201.80 280.00 200.70 C281.38 199.60 283.05 198.52 284.30 197.70 C285.55 196.88 286.42 196.35 287.50 195.80 C288.58 195.25 289.72 194.72 290.80 194.40 C291.88 194.08 292.90 193.98 294.00 193.90 C295.10 193.82 296.07 193.83 297.40 193.90 C298.73 193.97 300.37 194.17 302.00 194.30 C303.63 194.43 305.53 194.72 307.20 194.70 C308.87 194.68 310.35 194.38 312.00 194.20 C313.65 194.02 315.93 193.70 317.10 193.60 C318.27 193.50 318.68 193.60 319.00 193.60" fill="none" stroke="#00ee00" stroke-width="1.35" stroke-dasharray="3.2 3.4"/>
<path d="M251.40 238.80 C254.17 238.70 262.52 238.42 268.00 238.20 C273.48 237.98 278.30 237.67 284.30 237.50 C290.30 237.33 299.38 237.35 304.00 237.20 C308.62 237.05 309.50 236.82 312.00 236.60 C314.50 236.38 317.83 236.02 319.00 235.90" fill="none" stroke="#ff0000" stroke-width="1.35" stroke-dasharray="3.2 3.4"/>
<path d="M251.40 241.30 C252.67 241.13 256.27 240.72 259.00 240.30 C261.73 239.88 264.97 239.45 267.80 238.80 C270.63 238.15 273.25 237.35 276.00 236.40 C278.75 235.45 282.13 234.00 284.30 233.10 C286.47 232.20 287.37 231.68 289.00 231.00 C290.63 230.32 292.43 229.85 294.10 229.00 C295.77 228.15 297.35 227.00 299.00 225.90 C300.65 224.80 302.50 223.47 304.00 222.40 C305.50 221.33 306.63 220.45 308.00 219.50 C309.37 218.55 310.95 217.40 312.20 216.70 C313.45 216.00 314.37 215.67 315.50 215.30 C316.63 214.93 318.42 214.63 319.00 214.50" fill="none" stroke="#00ee00" stroke-width="1.45"/>
<path d="M251.40 241.30 C254.50 241.27 263.57 241.17 270.00 241.10 C276.43 241.03 284.17 240.97 290.00 240.90 C295.83 240.83 300.17 240.77 305.00 240.70 C309.83 240.63 316.67 240.53 319.00 240.50" fill="none" stroke="#ff0000" stroke-width="1.45"/>
<path d="M344.80 203.80 L412.40 203.80" fill="none" stroke="#9b9bff" stroke-width="1.20" stroke-dasharray="3.4 3.3"/>
<path d="M344.80 203.80 L412.40 203.80" fill="none" stroke="#ff9bff" stroke-width="1.20" stroke-dasharray="3.4 3.3" stroke-opacity="0.60"/>
<path d="M344.80 212.20 C345.50 211.93 347.37 211.10 349.00 210.60 C350.63 210.10 352.43 209.67 354.60 209.20 C356.77 208.73 359.27 208.22 362.00 207.80 C364.73 207.38 367.50 207.03 371.00 206.70 C374.50 206.37 378.88 206.07 383.00 205.80 C387.12 205.53 390.85 205.35 395.70 205.10 C400.55 204.85 409.37 204.43 412.10 204.30" fill="none" stroke="#00ee00" stroke-width="1.35" stroke-dasharray="3.2 3.4"/>
<path d="M344.80 214.20 C347.33 214.15 354.25 213.98 360.00 213.90 C365.75 213.82 373.35 213.70 379.30 213.70 C385.25 213.70 392.08 213.97 395.70 213.90 C399.32 213.83 399.37 213.52 401.00 213.30 C402.63 213.08 403.65 212.72 405.50 212.60 C407.35 212.48 411.00 212.60 412.10 212.60" fill="none" stroke="#ff0000" stroke-width="1.35" stroke-dasharray="3.2 3.4"/>
<path d="M344.80 227.70 C345.25 226.97 346.42 224.58 347.50 223.30 C348.58 222.02 350.05 221.00 351.30 220.00 C352.55 219.00 353.62 218.13 355.00 217.30 C356.38 216.47 358.18 215.68 359.60 215.00 C361.02 214.32 362.13 213.75 363.50 213.20 C364.87 212.65 366.22 212.17 367.80 211.70 C369.38 211.23 371.08 210.80 373.00 210.40 C374.92 210.00 376.97 209.67 379.30 209.30 C381.63 208.93 384.27 208.53 387.00 208.20 C389.73 207.87 392.87 207.60 395.70 207.30 C398.53 207.00 401.27 206.70 404.00 206.40 C406.73 206.10 410.75 205.65 412.10 205.50" fill="none" stroke="#00ee00" stroke-width="1.45"/>
<path d="M344.80 231.50 C345.25 231.12 346.42 229.90 347.50 229.20 C348.58 228.50 349.88 227.97 351.30 227.30 C352.72 226.63 354.08 225.88 356.00 225.20 C357.92 224.52 360.88 223.67 362.80 223.20 C364.72 222.73 365.85 222.58 367.50 222.40 C369.15 222.22 370.73 222.10 372.70 222.10 C374.67 222.10 377.42 222.42 379.30 222.40 C381.18 222.38 382.22 222.20 384.00 222.00 C385.78 221.80 388.05 221.47 390.00 221.20 C391.95 220.93 393.38 220.53 395.70 220.40 C398.02 220.27 401.17 220.28 403.90 220.40 C406.63 220.52 410.73 220.98 412.10 221.10" fill="none" stroke="#ff0000" stroke-width="1.45"/>
<path d="M438.10 205.90 C440.42 206.07 446.80 206.57 452.00 206.90 C457.20 207.23 464.30 207.77 469.30 207.90 C474.30 208.03 478.18 207.82 482.00 207.70 C485.82 207.58 489.37 207.18 492.20 207.20 C495.03 207.22 496.80 207.52 499.00 207.80 C501.20 208.08 504.33 208.72 505.40 208.90" fill="none" stroke="#ff0000" stroke-width="1.35" stroke-dasharray="3.2 3.4"/>
<path d="M438.10 209.40 C438.75 209.95 440.63 211.62 442.00 212.70 C443.37 213.78 444.97 214.95 446.30 215.90 C447.63 216.85 448.63 217.65 450.00 218.40 C451.37 219.15 453.00 219.87 454.50 220.40 C456.00 220.93 457.37 221.27 459.00 221.60 C460.63 221.93 461.63 222.13 464.30 222.40 C466.97 222.67 471.43 222.98 475.00 223.20 C478.57 223.42 481.73 223.50 485.70 223.70 C489.67 223.90 496.08 224.13 498.80 224.40 C501.52 224.67 500.90 224.87 502.00 225.30 C503.10 225.73 504.83 226.72 505.40 227.00" fill="none" stroke="#00ee00" stroke-width="1.35" stroke-dasharray="3.2 3.4"/>
<path d="M438.10 192.40 C438.92 193.07 441.37 195.10 443.00 196.40 C444.63 197.70 446.27 199.00 447.90 200.20 C449.53 201.40 451.15 202.52 452.80 203.60 C454.45 204.68 456.02 205.73 457.80 206.70 C459.58 207.67 461.58 208.57 463.50 209.40 C465.42 210.23 467.05 210.90 469.30 211.70 C471.55 212.50 474.27 213.38 477.00 214.20 C479.73 215.02 482.70 215.73 485.70 216.60 C488.70 217.47 491.72 218.45 495.00 219.40 C498.28 220.35 503.67 221.82 505.40 222.30" fill="none" stroke="#00ee00" stroke-width="1.45"/>
<path d="M438.10 189.80 C439.08 190.18 442.08 191.38 444.00 192.10 C445.92 192.82 447.85 193.57 449.60 194.10 C451.35 194.63 452.87 194.97 454.50 195.30 C456.13 195.63 457.15 195.90 459.40 196.10 C461.65 196.30 464.98 196.42 468.00 196.50 C471.02 196.58 474.67 196.42 477.50 196.60 C480.33 196.78 482.55 197.22 485.00 197.60 C487.45 197.98 490.20 198.75 492.20 198.90 C494.20 199.05 495.35 198.70 497.00 198.50 C498.65 198.30 500.70 197.78 502.10 197.70 C503.50 197.62 504.85 197.95 505.40 198.00" fill="none" stroke="#ff0000" stroke-width="1.45"/>
<rect x="137.4" y="87.5" width="291.1" height="9.7" fill="#fff" stroke="#666" stroke-width="0.6"/>
<path d="M140.60 92.40 L157.00 92.40" fill="none" stroke="#00ee00" stroke-width="1.15"/>
<text x="159.50" y="94.30" class="l">Pred (F/F)</text>
<path d="M188.10 92.40 L204.50 92.40" fill="none" stroke="#ff0000" stroke-width="1.15"/>
<text x="206.60" y="94.30" class="l">Filter (F/F)</text>
<path d="M236.80 92.40 L254.30 92.40" fill="none" stroke="#00ee00" stroke-width="1.15" stroke-dasharray="3.2 1.4"/>
<text x="255.60" y="94.30" class="l">Pred (P/F)</text>
<path d="M284.40 92.40 L301.40 92.40" fill="none" stroke="#ff0000" stroke-width="1.15" stroke-dasharray="3.2 1.4"/>
<text x="302.70" y="94.30" class="l">Filter (P/F)</text>
<path d="M332.20 92.40 L349.40 92.40" fill="none" stroke="#00ee00" stroke-width="0.90" stroke-dasharray="0.9 1.2" stroke-opacity="0.75"/>
<text x="351.50" y="94.30" class="l">Pred (P/R)</text>
<path d="M379.30 92.40 L396.50 92.40" fill="none" stroke="#ff0000" stroke-width="0.90" stroke-dasharray="0.9 1.2" stroke-opacity="0.75"/>
<text x="399.20" y="94.30" class="l">Filter (P/R)</text>
<path d="M135.10 117.70 V144.60" stroke="#808080" stroke-width="0.4" fill="none"/>
<path d="M135.10 114.70 l2.35 5.2 l-2.35 -1.5 l-2.35 1.5 z" fill="#000"/>
<path d="M135.10 147.60 l2.35 -5.2 l-2.35 1.5 l-2.35 -1.5 z" fill="#000"/>
<text x="131.40" y="113.20" class="w">Worst</text>
<text x="131.40" y="151.60" class="w">Best</text>
<path d="M229.00 117.70 V144.60" stroke="#808080" stroke-width="0.4" fill="none"/>
<path d="M229.00 114.70 l2.35 5.2 l-2.35 -1.5 l-2.35 1.5 z" fill="#000"/>
<path d="M229.00 147.60 l2.35 -5.2 l-2.35 1.5 l-2.35 -1.5 z" fill="#000"/>
<text x="226.70" y="113.20" class="w">Best</text>
<text x="226.00" y="152.00" class="w">Worst</text>
<path d="M322.60 117.70 V144.60" stroke="#808080" stroke-width="0.4" fill="none"/>
<path d="M322.60 114.70 l2.35 5.2 l-2.35 -1.5 l-2.35 1.5 z" fill="#000"/>
<path d="M322.60 147.60 l2.35 -5.2 l-2.35 1.5 l-2.35 -1.5 z" fill="#000"/>
<text x="319.00" y="113.20" class="w">Worst</text>
<text x="320.00" y="152.00" class="w">Best</text>
<path d="M416.00 117.70 V144.60" stroke="#808080" stroke-width="0.4" fill="none"/>
<path d="M416.00 114.70 l2.35 5.2 l-2.35 -1.5 l-2.35 1.5 z" fill="#000"/>
<path d="M416.00 147.60 l2.35 -5.2 l-2.35 1.5 l-2.35 -1.5 z" fill="#000"/>
<text x="412.70" y="112.30" class="w">Worst</text>
<text x="413.00" y="152.40" class="w">Best</text>
<path d="M509.60 117.70 V144.60" stroke="#808080" stroke-width="0.4" fill="none"/>
<path d="M509.60 114.70 l2.35 5.2 l-2.35 -1.5 l-2.35 1.5 z" fill="#000"/>
<path d="M509.60 147.60 l2.35 -5.2 l-2.35 1.5 l-2.35 -1.5 z" fill="#000"/>
<text x="507.60" y="112.60" class="w">Best</text>
<text x="506.70" y="153.00" class="w">Worst</text>
<text x="5.8" y="14.9" textLength="37" lengthAdjust="spacingAndGlyphs" style="font:bold 14.4px 'Liberation Serif',serif" fill="#000" stroke="#000" stroke-width="0.2">ε = 1.0</text>
<text x="96.28" y="14" text-anchor="middle" class="ti">(a) Shannon entropy residual</text>
<text x="189.98" y="14" text-anchor="middle" class="ti">(b) Mutual information</text>
<text x="283.38" y="14" text-anchor="middle" class="ti">(c) Relative entropy</text>
<text x="376.98" y="14" text-anchor="middle" class="ti">(d) RMSE</text>
<text x="470.38" y="14" text-anchor="middle" class="ti">(e) PC</text>
<text x="17.2" y="51.30" style="font:bold 13px 'Liberation Serif',serif" fill="#111">u<tspan dy="6.2" font-size="10.5px">1</tspan></text>
<text x="17.2" y="129.90" style="font:bold 13px 'Liberation Serif',serif" fill="#111">u<tspan dy="6.2" font-size="10.5px">2</tspan></text>
<text x="17.2" y="211.90" style="font:bold 13px 'Liberation Serif',serif" fill="#111">u<tspan dy="6.2" font-size="10.5px">3</tspan></text>
<text x="89.48" y="257.5" class="t" style="font-size:6.5px;stroke:#000;stroke-width:0.12px">Δt<tspan dy="3.3" font-size="5.2px">obs</tspan></text>
<text x="183.18" y="257.5" class="t" style="font-size:6.5px;stroke:#000;stroke-width:0.12px">Δt<tspan dy="3.3" font-size="5.2px">obs</tspan></text>
<text x="276.57" y="257.5" class="t" style="font-size:6.5px;stroke:#000;stroke-width:0.12px">Δt<tspan dy="3.3" font-size="5.2px">obs</tspan></text>
<text x="370.18" y="257.5" class="t" style="font-size:6.5px;stroke:#000;stroke-width:0.12px">Δt<tspan dy="3.3" font-size="5.2px">obs</tspan></text>
<text x="463.57" y="257.5" class="t" style="font-size:6.5px;stroke:#000;stroke-width:0.12px">Δt<tspan dy="3.3" font-size="5.2px">obs</tspan></text>
<path d="M513.20 45.10 L525.30 45.10" fill="none" stroke="#ff77ff" stroke-width="1.00" stroke-dasharray="2.7 1.9"/>
<text x="527.4" y="49.6" style="font:7.6px 'Liberation Serif',serif" fill="#ff33ff">√</text>
<path d="M531.3 43.9 H539" stroke="#ff33ff" stroke-width="0.55" fill="none"/>
<text x="532.6" y="49.3" style="font:italic bold 6.8px 'Liberation Serif',serif" fill="#ff33ff">r</text>
<path d="M532.8 45.2 H536.6" stroke="#ff33ff" stroke-width="0.5" fill="none"/>
<path d="M513.20 62.20 L525.30 62.20" fill="none" stroke="#7777ff" stroke-width="1.00" stroke-dasharray="2.7 1.9"/>
<text x="528.2" y="65.5" style="font:6.5px 'Liberation Serif',serif" fill="#2222ff" stroke="#2222ff" stroke-width="0.15">Std(u<tspan dy="1.6" font-size="4.6px">i</tspan><tspan dy="-1.6">)</tspan></text>
</svg>
</body></html>
